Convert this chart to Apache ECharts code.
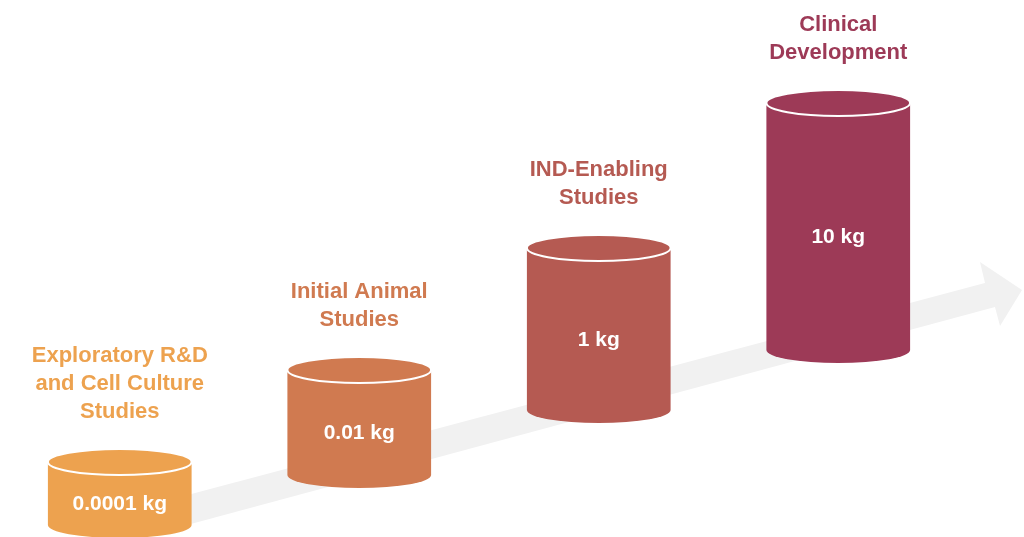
<!DOCTYPE html>
<html>
<head>
<meta charset="utf-8">
<script src="https://cdn.jsdelivr.net/npm/echarts@6/dist/echarts.min.js"></script>
<style>html,body{margin:0;padding:0;background:#fff}#main{width:1024px;height:537px}</style>
</head>
<body>
<div id="main"></div>
<script>
var stages = ['Exploratory R&D\nand Cell Culture\nStudies', 'Initial Animal\nStudies', 'IND-Enabling\nStudies', 'Clinical\nDevelopment'];
var amounts = ['0.0001 kg', '0.01 kg', '1 kg', '10 kg'];
var tops = [75, 167, 289, 434];
var bases = [12, 62, 127, 187];
var colors = ['#eda24f', '#d07a50', '#b55a52', '#9d3a57'];

var chart = echarts.init(document.getElementById('main'));
var font = '"Liberation Sans", Arial, sans-serif';

function renderItem(params, api) {
  var i = params.dataIndex;
  var top = api.coord([api.value(0), api.value(1)]);
  var bot = api.coord([api.value(0), api.value(2)]);
  var w = api.size([1, 0])[0] * 0.6;
  var cx = top[0], rx = w / 2, ry = 13;
  var col = colors[i];
  var body = 'M' + (cx - rx) + ' ' + top[1] + ' L' + (cx - rx) + ' ' + bot[1] +
    ' A' + rx + ' ' + ry + ' 0 0 0 ' + (cx + rx) + ' ' + bot[1] +
    ' L' + (cx + rx) + ' ' + top[1] + ' Z';
  return {
    type: 'group',
    children: [
      { type: 'path', shape: { pathData: body }, style: { fill: col } },
      { type: 'ellipse', shape: { cx: cx, cy: top[1], rx: rx, ry: ry },
        style: { fill: col, stroke: '#fff', lineWidth: 2 } },
      { type: 'text', x: cx, y: (top[1] + bot[1]) / 2 + 11,
        style: { text: amounts[i], fill: '#fff', font: 'bold 21px ' + font, align: 'center', verticalAlign: 'middle' } },
      { type: 'text', x: cx, y: top[1] - 36,
        style: { text: stages[i], fill: col, font: 'bold 22px ' + font, align: 'center', verticalAlign: 'bottom', lineHeight: 28 } }
    ]
  };
}

chart.setOption({
  animation: false,
  grid: { left: -2, right: 66, top: 0, bottom: 0 },
  xAxis: { type: 'category', data: stages, show: false },
  yAxis: { type: 'value', min: 0, max: 537, show: false },
  graphic: [{
    type: 'polygon', z: 0,
    shape: { points: [[150, 505], [985, 283], [980, 262], [1022, 290], [1000, 326], [995, 307], [150, 535]] },
    style: { fill: '#f1f1f1' }
  }],
  series: [{
    type: 'custom', z: 5,
    renderItem: renderItem,
    data: stages.map(function (s, i) { return [i, tops[i], bases[i]]; })
  }]
});
</script>
</body>
</html>
